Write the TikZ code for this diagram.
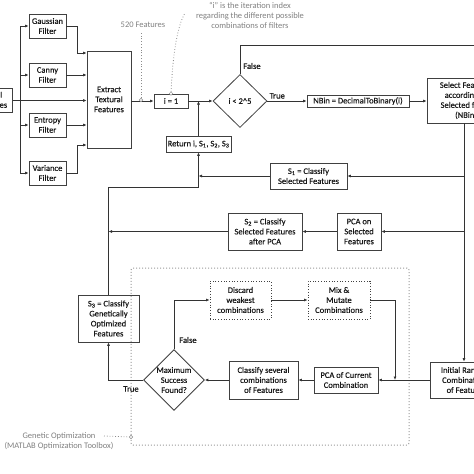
\documentclass[tikz,border=0pt]{standalone}
\usepackage{fontspec}
\setmainfont{Carlito}
\newfontfamily\boxfont[FakeBold=0.4]{Carlito}
\usetikzlibrary{arrows.meta,shapes.geometric,calc}
\begin{document}
\begin{tikzpicture}[x=1pt,y=-1pt,
  font=\fontsize{8.5}{10}\selectfont,
  box/.style={draw=black!75,line width=0.7pt,align=center,inner sep=1pt,text=black!90,font=\boxfont\fontsize{8.5}{10}\selectfont},
  dbox/.style={box,dotted,line width=0.9pt},
  dia/.style={draw=black!75,line width=0.8pt,diamond,inner sep=0pt,align=center,text=black!90,font=\boxfont\fontsize{8.5}{10}\selectfont},
  arr/.style={draw=black!80,line width=0.8pt,-{Latex[length=3.5pt,width=3pt]}},
  ln/.style={draw=black!80,line width=0.8pt},
  note/.style={text=black!50,align=center},
  lbl/.style={text=black!90,inner sep=1pt,font=\boxfont\fontsize{8.5}{10}\selectfont},
  dot/.style={circle,draw=black!45,fill=white,inner sep=0pt,minimum size=3.5pt},
  dotl/.style={draw=black!45,dotted,line width=0.8pt}
  ]
\useasboundingbox (0,0) rectangle (474,474);
\clip (0,0) rectangle (474,474);

% genetic region
\node[draw=black!40,dotted,line width=1pt,rounded corners=2pt,minimum width=278pt,minimum height=177pt,inner sep=0pt] (gen) at (270,356.5) {};

% nodes
\node[box,align=right,anchor=east,inner xsep=5.5pt,minimum height=24pt] (orig) at (13,100.5) {Original\hspace*{5pt}\\Images};
\node[box,minimum width=37pt,minimum height=24pt] (gauss) at (47.5,26) {Gaussian\\Filter};
\node[box,minimum width=37pt,minimum height=24pt] (canny) at (47.5,75) {Canny\\Filter};
\node[box,minimum width=37pt,minimum height=24pt] (entropy) at (47.5,125) {Entropy\\Filter};
\node[box,minimum width=37pt,minimum height=24pt] (variance) at (47.5,173) {Variance\\Filter};
\node[box,minimum width=44pt,minimum height=97pt] (extract) at (109,99.5) {Extract\\Textural\\Features};
\node[box,minimum width=34pt,minimum height=14pt] (i1) at (171,101) {i = 1};
\node[dia,minimum width=54pt,minimum height=53pt] (d1) at (240,101) {i < 2\textasciicircum 5};
\node[box,minimum width=65pt,minimum height=16pt] (return) at (198.5,144) {Return i, S\textsubscript{1}, S\textsubscript{2}, S\textsubscript{3}};
\node[box,minimum width=102pt,minimum height=12pt] (nbin) at (358,101) {NBin = DecimalToBinary(i)};
\node[box,minimum width=78pt,minimum height=45pt] (select) at (466,100.5) {Select Features\\according to\\Selected filters\\(NBin)};
\node[box,minimum width=77pt,minimum height=26pt] (s1) at (308.5,176) {S\textsubscript{1} = Classify\\Selected Features};
\node[box,minimum width=74pt,minimum height=37pt] (s2) at (265,231.5) {S\textsubscript{2} = Classify\\Selected Features\\after PCA};
\node[box,minimum width=44pt,minimum height=37pt] (pcasel) at (359,231.5) {PCA on\\Selected\\Features};
\node[box,minimum width=61pt,minimum height=47pt] (s3) at (108.5,318.5) {S\textsubscript{3} = Classify\\Genetically\\Optimized\\Features};
\node[dia,minimum width=60pt,minimum height=60pt] (d2) at (174,380) {Maximum\\Success\\Found?};
\node[dbox,minimum width=61pt,minimum height=38pt] (discard) at (240.5,300) {Discard\\weakest\\combinations};
\node[dbox,minimum width=62pt,minimum height=38pt] (mix) at (339,300) {Mix \&\\Mutate\\Combinations};
\node[box,minimum width=69pt,minimum height=38pt] (classify) at (263.5,380) {Classify several\\combinations\\of Features};
\node[box,minimum width=64pt,minimum height=26pt] (pcacur) at (346,380) {PCA of Current\\Combination};
\node[box,minimum width=72pt,minimum height=36pt] (initrand) at (466,380) {Initial Random\\Combinations\\of Features};

% notes
\node[note] (f520) at (143,25) {520 Features};
\node[note] (ann) at (250,15) {“i” is the iteration index\\regarding the different possible\\combinations of filters};
\node[note] (genlbl) at (59,441) {Genetic Optimization\\(MATLAB Optimization Toolbox)};

% coordinates
\coordinate (bus) at (20,100);
\coordinate (g1) at (77,53);
\coordinate (v1) at (77,145);
\coordinate (ftop) at (240,45);
\coordinate (fright) at (480,45);
\coordinate (rb) at (464,0);
\coordinate (rx) at (198.5,187);
\coordinate (mx) at (395,0);
\coordinate (gcp) at (131,437);
\coordinate (gls) at (104,436);
\coordinate (ca) at (185,13);

% left part
\draw[arr] (orig.east) -- (orig.east -| extract.west);
\draw[ln] (gauss.west -| bus) -- (variance.west -| bus);
\draw[arr] (gauss.west -| bus) -- (gauss.west);
\draw[arr] (canny.west -| bus) -- (canny.west);
\draw[arr] (entropy.west -| bus) -- (entropy.west);
\draw[arr] (variance.west -| bus) -- (variance.west);
\draw[arr] (gauss.east) -| (g1) -- (g1 -| extract.west);
\draw[arr] (canny.east) -- (canny.east -| extract.west);
\draw[arr] (entropy.east) -- (entropy.east -| extract.west);
\draw[arr] (variance.east) -| (v1) -- (v1 -| extract.west);
\draw[arr] (extract.east |- i1.west) -- (i1.west);
\draw[arr] (i1.east) -- (d1.west);
\draw[arr] (return.north) -- (return.north |- i1.east);
\draw[arr] (d1.east) -- node[lbl,above=1pt,pos=0.25] {True} (nbin.west);
\draw[ln] (d1.north) -- (ftop) -- (fright);
\node[lbl] (flab1) at (252,66) {False};
\draw[arr] (nbin.east) -- (nbin.east -| select.west);

% right bus
\draw[arr] (select.south -| rb) -- (initrand.north -| rb);
\draw[arr] (s1.east -| rb) -- (s1.east);
\draw[arr] (pcasel.east -| rb) -- (pcasel.east);
\draw[arr] (pcasel.west) -- (s2.east);
\draw[arr] (s1.west) -- (s1.west -| rx);
\draw[arr] (s3.north) |- (rx) -- (rx |- return.south);
\draw[arr] (s2.west) -- (s2.west -| s3.north);

% genetic loop
\draw[arr] (d2.west) -| (s3.south);
\node[lbl] (tlab2) at (131,389) {True};
\draw[arr] (d2.north) |- (discard.west);
\node[lbl] (flab2) at (188,340) {False};
\draw[arr] (discard.east) -- (mix.west);
\draw[arr] (mix.east) -| (mx |- pcacur.east);
\draw[arr] (initrand.west) -- (pcacur.east);
\draw[arr] (pcacur.west) -- (classify.east);
\draw[arr] (classify.west) -- (d2.east);

% annotations
\node[dot] (c520) at (141,100) {};
\draw[dotl] (c520) -- (c520 |- f520.south);
\node[dot] (ci) at (i1.north) {};
\draw[dotl] (ci) .. controls (173,50) and (178,25) .. (ca);
\node[dot] (gc) at (gcp) {};
\draw[dotl] (gls) -- (gc);
\end{tikzpicture}
\end{document}
